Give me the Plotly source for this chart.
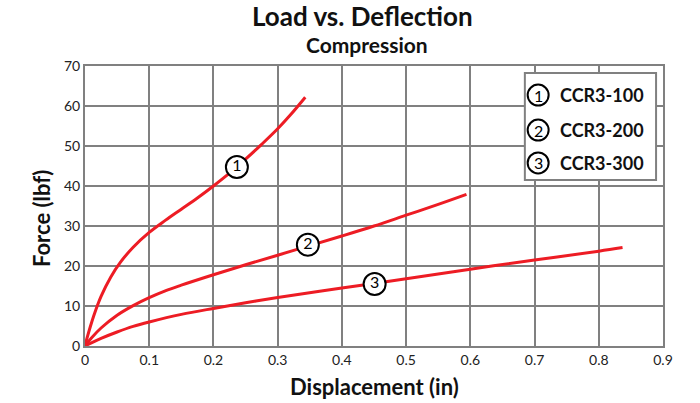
import plotly.graph_objects as go

# ---- data ----
names = ["CCR3-100", "CCR3-200", "CCR3-300"]

x1 = [0, 0.003, 0.008, 0.015, 0.025, 0.04, 0.055, 0.075, 0.1, 0.125, 0.15, 0.175, 0.2,
      0.225, 0.25, 0.275, 0.3, 0.32, 0.343]
y1 = [0, 1.9, 4.7, 8.2, 12.4, 17.2, 20.9, 24.7, 28.4, 31.4, 34.2, 37.0, 40.0,
      43.2, 46.7, 50.4, 54.3, 57.8, 62.2]

x2 = [0, 0.01, 0.025, 0.05, 0.075, 0.1, 0.125, 0.15, 0.2, 0.25, 0.3, 0.35, 0.4, 0.45,
      0.5, 0.55, 0.594]
y2 = [0, 2.0, 4.5, 7.7, 10.1, 12.1, 13.8, 15.2, 17.8, 20.3, 22.7, 25.1, 27.5, 30.0,
      32.7, 35.4, 37.9]

x3 = [0, 0.01, 0.025, 0.05, 0.075, 0.1, 0.15, 0.2, 0.25, 0.3, 0.4, 0.5, 0.6, 0.7, 0.8, 0.837]
y3 = [0, 0.8, 1.9, 3.5, 4.9, 6.0, 7.9, 9.4, 10.8, 12.1, 14.5, 16.8, 19.2, 21.5, 23.7, 24.6]

label_nums = ["1", "2", "3"]
label_x = [0.2365, 0.347, 0.451]
label_y = [44.75, 25.3, 15.5]

x_ticks = [0, 0.1, 0.2, 0.3, 0.4, 0.5, 0.6, 0.7, 0.8, 0.9]
x_tick_text = ["0", "0.1", "0.2", "0.3", "0.4", "0.5", "0.6", "0.7", "0.8", "0.9"]
y_ticks = [0, 10, 20, 30, 40, 50, 60, 70]

RED = "#ED1C24"
GRID = "#808080"
FONT = "Lato"

fig = go.Figure()
for xs, ys, nm in zip([x1, x2, x3], [y1, y2, y3], names):
    fig.add_trace(go.Scatter(x=xs, y=ys, mode="lines", name=nm,
                             line=dict(color=RED, width=3, shape="spline", smoothing=1.0),
                             showlegend=False, hoverinfo="skip"))

fig.add_trace(go.Scatter(x=label_x, y=label_y, mode="markers+text", text=label_nums,
                         textposition="middle center",
                         textfont=dict(family=FONT, size=16, color="black"),
                         marker=dict(size=22, color="white", line=dict(color="black", width=2)),
                         showlegend=False, hoverinfo="skip", cliponaxis=False))

# legend box
PW, PH = 578, 280
fig.add_shape(type="rect", xref="paper", yref="paper", x0=0.761, x1=0.988, y0=0.593, y1=0.975,
              line=dict(color=GRID, width=2), fillcolor="white", layer="above")
leg_y = [0.896, 0.771, 0.654]
for num, nm, ly in zip(label_nums, names, leg_y):
    fig.add_shape(type="circle", xref="paper", yref="paper",
                  x0=0.784 - 10.5 / PW, x1=0.784 + 10.5 / PW,
                  y0=ly - 10.5 / PH, y1=ly + 10.5 / PH,
                  line=dict(color="black", width=2), layer="above")
    fig.add_annotation(xref="paper", yref="paper", x=0.784, y=ly, text=num, showarrow=False,
                       font=dict(family=FONT, size=16, color="black"),
                       xanchor="center", yanchor="middle")
    fig.add_annotation(xref="paper", yref="paper", x=0.819, y=ly, text="<b>" + nm + "</b>",
                       showarrow=False, font=dict(family=FONT, size=18, color="#111"),
                       xanchor="left", yanchor="middle")

fig.add_annotation(xref="paper", yref="paper", x=(362 - 85) / PW, y=1.0 + (66 - 16) / PH,
                   text="<b>Load vs. Deflection</b>", showarrow=False,
                   font=dict(family=FONT, size=26, color="#111"), xanchor="center", yanchor="middle")
fig.add_annotation(xref="paper", yref="paper", x=(367 - 85) / PW, y=1.0 + (66 - 44) / PH,
                   text="<b>Compression</b>", showarrow=False,
                   font=dict(family=FONT, size=21, color="#111"), xanchor="center", yanchor="middle")
fig.add_annotation(xref="paper", yref="paper", x=(41 - 85) / PW, y=(346 - 219) / PH,
                   text="<b>Force (lbf)</b>", showarrow=False, textangle=-90,
                   font=dict(family=FONT, size=22, color="#111"), xanchor="center", yanchor="middle")
fig.add_annotation(xref="paper", yref="paper", x=(374 - 85) / PW, y=-(386 - 346) / PH,
                   text="<b>Displacement (in)</b>", showarrow=False,
                   font=dict(family=FONT, size=22, color="#111"), xanchor="center", yanchor="middle")

fig.update_layout(
    width=700, height=403,
    margin=dict(l=85, r=37, t=66, b=57),
    paper_bgcolor="white", plot_bgcolor="white",
    font=dict(family=FONT, color="#222"),
)
fig.update_xaxes(range=[0, 0.9], tickvals=x_ticks, ticktext=x_tick_text,
                 showgrid=True, gridcolor=GRID, gridwidth=2,
                 showline=True, linecolor=GRID, linewidth=2, mirror=True,
                 zeroline=False, ticks="", tickfont=dict(family=FONT, size=14, color="#222"))
fig.update_yaxes(range=[0, 70], tickvals=y_ticks,
                 showgrid=True, gridcolor=GRID, gridwidth=2,
                 showline=True, linecolor=GRID, linewidth=2, mirror=True,
                 zeroline=False, ticks="", tickfont=dict(family=FONT, size=14, color="#222"))

fig.write_html("out.html")
